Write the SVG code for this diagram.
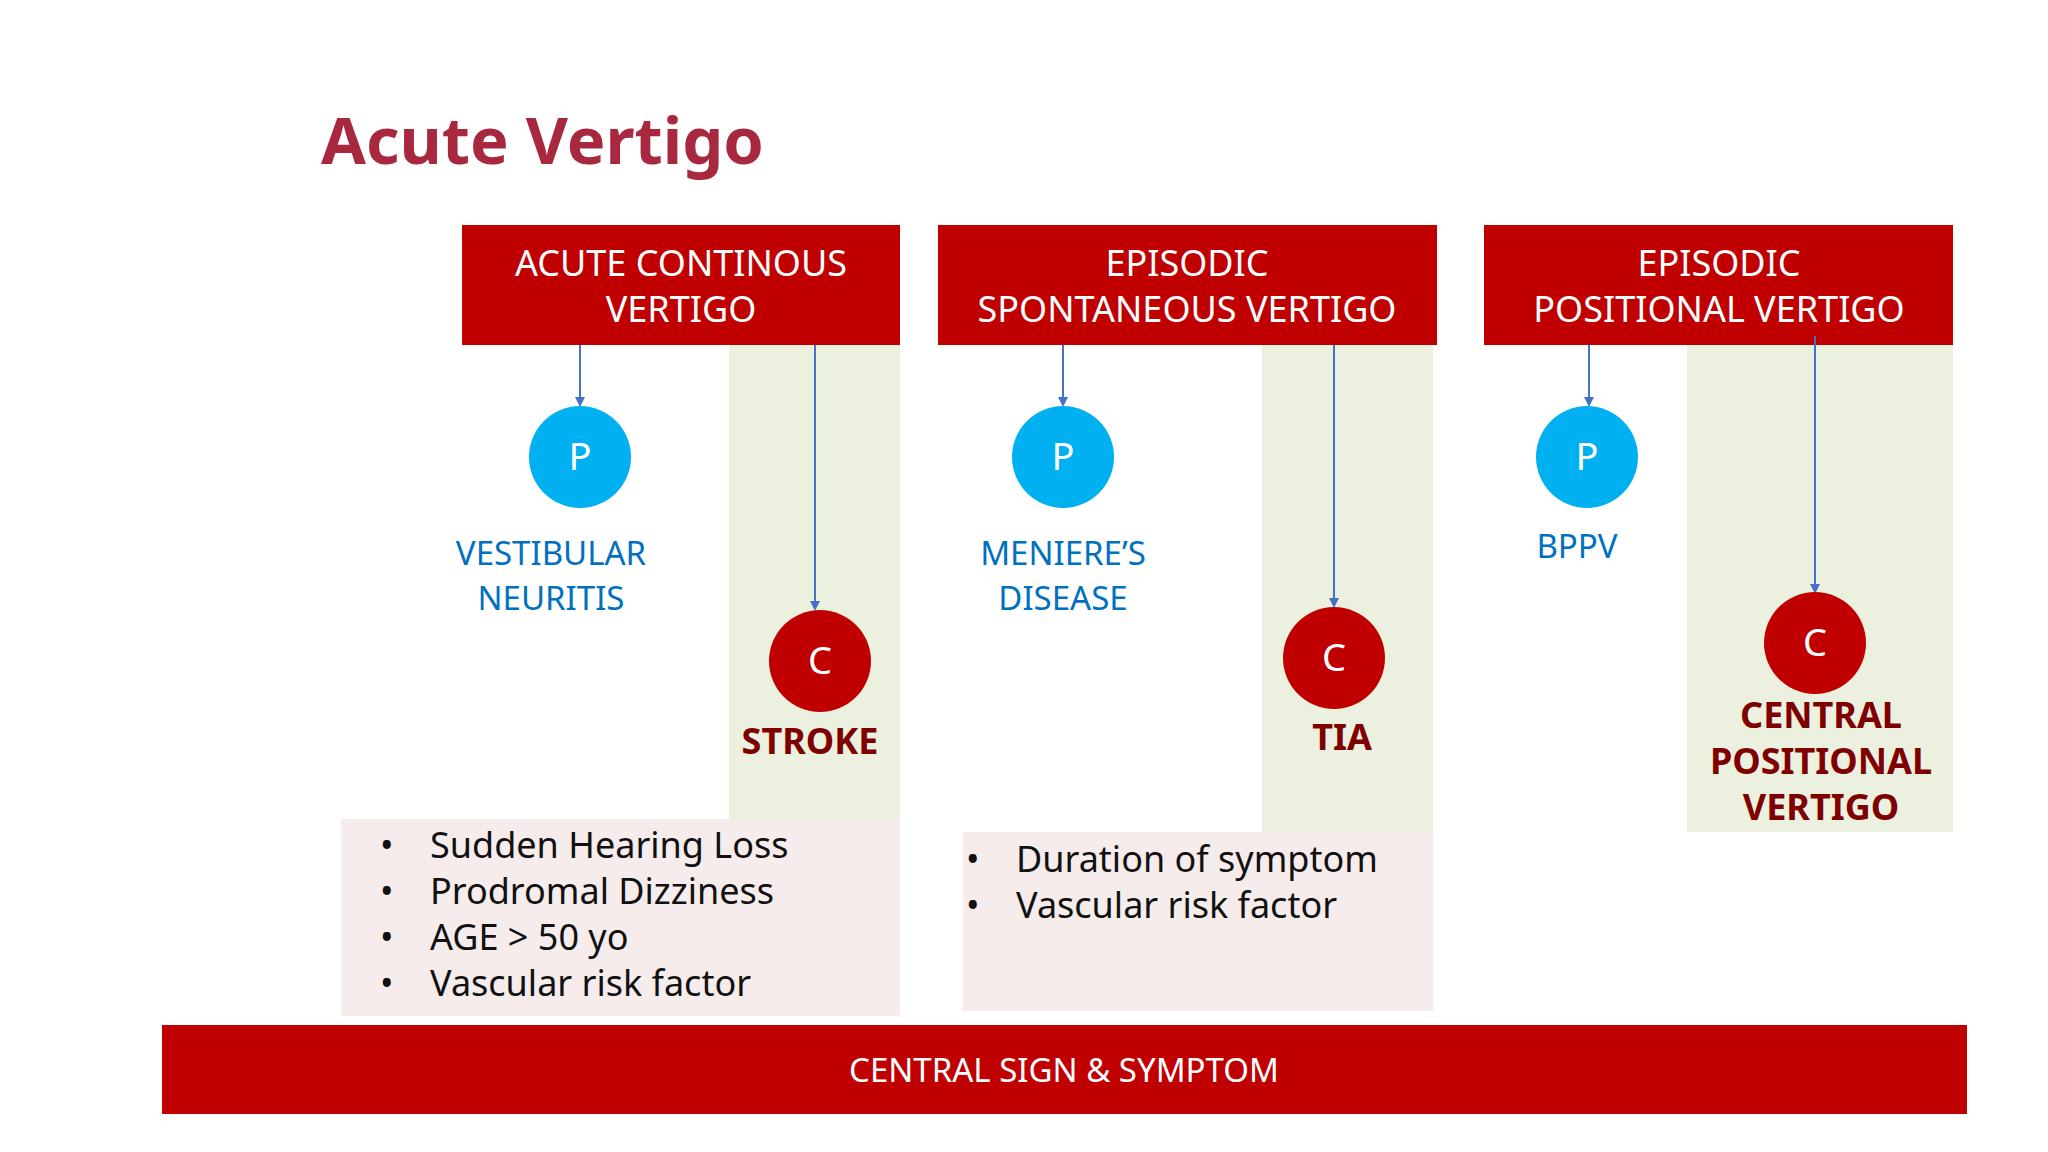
<svg xmlns="http://www.w3.org/2000/svg" width="2048" height="1152" viewBox="0 0 2048 1152">
<defs>
<marker id="ah" markerWidth="10" markerHeight="10" refX="8" refY="5" orient="auto" markerUnits="userSpaceOnUse"><path d="M0,0 L10,5 L0,10 z" fill="#4472C4"/></marker>
<style>
text{font-family:"Noto Sans","Open Sans",sans-serif}
.hdr{fill:#C00000}
.ht{fill:#fff;font-size:36px;text-anchor:middle}
.green{fill:#EBF1DE}
.pink{fill:#F6ECEC}
.p{fill:#00B0F0}
.c{fill:#C00000}
.ct{fill:#fff;font-size:38px;text-anchor:middle}
.bl{fill:#0070C0;font-size:33px;text-anchor:middle}
.rl{fill:#7F0000;font-size:36px;font-weight:bold;text-anchor:middle}
.bt{fill:#111;font-size:36px}
.cn{stroke:#4472C4;stroke-width:2;fill:none;marker-end:url(#ah)}
</style>
</defs>
<rect width="2048" height="1152" fill="#fff"/>
<text x="321" y="164" font-size="65" font-weight="bold" fill="#A8293F">Acute Vertigo</text>
<g id="panels">
<rect class="green" x="729" y="345" width="171" height="474"/>
<rect class="green" x="1262" y="345" width="171" height="487"/>
<rect class="green" x="1687" y="345" width="266" height="487"/>
<rect class="pink" x="341" y="819" width="559" height="197"/>
<rect class="pink" x="963" y="832" width="470" height="179"/>
</g>
<g id="h1"><rect class="hdr" x="462" y="225" width="438" height="120"/><text class="ht" x="681" y="276">ACUTE  CONTINOUS</text><text class="ht" x="681" y="322">VERTIGO</text></g>
<g id="h2"><rect class="hdr" x="938" y="225" width="499" height="120"/><text class="ht" x="1187" y="276">EPISODIC</text><text class="ht" x="1187" y="322">SPONTANEOUS VERTIGO</text></g>
<g id="h3"><rect class="hdr" x="1484" y="225" width="469" height="120"/><text class="ht" x="1719" y="276">EPISODIC</text><text class="ht" x="1719" y="322">POSITIONAL VERTIGO</text></g>
<g id="connectors">
<line class="cn" x1="580" y1="345" x2="580" y2="405"/>
<line class="cn" x1="815" y1="345" x2="815" y2="609"/>
<line class="cn" x1="1063" y1="345" x2="1063" y2="405"/>
<line class="cn" x1="1334" y1="345" x2="1334" y2="606"/>
<line class="cn" x1="1589" y1="345" x2="1589" y2="405"/>
<line class="cn" x1="1815" y1="336" x2="1815" y2="592"/>
</g>
<g id="p1"><circle class="p" cx="580" cy="457" r="51"/><text class="ct" x="580" y="470">P</text><text class="bl" x="551" y="565">VESTIBULAR</text><text class="bl" x="551" y="610">NEURITIS</text></g>
<g id="c1"><circle class="c" cx="820" cy="661" r="51"/><text class="ct" x="820" y="674" font-size="32">C</text><text class="rl" x="810" y="754">STROKE</text></g>
<g id="p2"><circle class="p" cx="1063" cy="457" r="51"/><text class="ct" x="1063" y="470">P</text><text class="bl" x="1063" y="565">MENIERE’S</text><text class="bl" x="1063" y="610">DISEASE</text></g>
<g id="c2"><circle class="c" cx="1334" cy="658" r="51"/><text class="ct" x="1334" y="671" font-size="32">C</text><text class="rl" x="1342" y="750">TIA</text></g>
<g id="p3"><circle class="p" cx="1587" cy="457" r="51"/><text class="ct" x="1587" y="470">P</text><text class="bl" x="1577" y="558">BPPV</text></g>
<g id="c3"><circle class="c" cx="1815" cy="643" r="51"/><text class="ct" x="1815" y="656" font-size="32">C</text><text class="rl" x="1821" y="728">CENTRAL</text><text class="rl" x="1821" y="774">POSITIONAL</text><text class="rl" x="1821" y="820">VERTIGO</text></g>
<g id="list1">
<text class="bt" x="380" y="858">•</text><text class="bt" x="430" y="858">Sudden Hearing Loss</text>
<text class="bt" x="380" y="904">•</text><text class="bt" x="430" y="904">Prodromal Dizziness</text>
<text class="bt" x="380" y="950">•</text><text class="bt" x="430" y="950">AGE &gt; 50 yo</text>
<text class="bt" x="380" y="996">•</text><text class="bt" x="430" y="996">Vascular risk factor</text>
</g>
<g id="list2">
<text class="bt" x="966" y="872">•</text><text class="bt" x="1016" y="872">Duration of symptom</text>
<text class="bt" x="966" y="918">•</text><text class="bt" x="1016" y="918">Vascular risk factor</text>
</g>
<g id="bottom"><rect class="hdr" x="162" y="1025" width="1805" height="89"/><text x="1064" y="1082" fill="#fff" font-size="33" text-anchor="middle">CENTRAL SIGN &amp; SYMPTOM</text></g>
</svg>
